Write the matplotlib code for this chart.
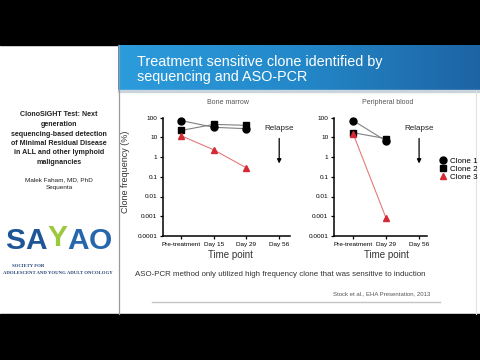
import numpy as np
import matplotlib
matplotlib.use("Agg")
import matplotlib.pyplot as plt
from matplotlib.colors import LinearSegmentedColormap
from matplotlib.patches import Rectangle

plt.rcParams['font.family'] = ['Liberation Sans', 'DejaVu Sans']

# ---------------- data ----------------
bm_categories = ["Pre-treatment", "Day 15", "Day 29", "Day 56"]
bm_clone1 = [70, 32, 27]
bm_clone2 = [22, 45, 40]
bm_clone3 = [12, 2.3, 0.28]

pb_categories = ["Pre-treatment", "Day 29", "Day 56"]
pb_clone1 = [70, 6.5]
pb_clone2 = [17, 8.5]
pb_clone3 = [15, 0.0008]

ytick_values = [0.0001, 0.001, 0.01, 0.1, 1, 10, 100]
ytick_labels = ["0.0001", "0.001", "0.01", "0.1", "1", "10", "100"]
clone_labels = ["Clone 1", "Clone 2", "Clone 3"]

title_lines = ["Treatment sensitive clone identified by", "sequencing and ASO-PCR"]
side_lines = ["ClonoSIGHT Test: Next", "generation", "sequencing-based detection",
              "of Minimal Residual Disease", "in ALL and other lymphoid", "malignancies"]
author_lines = ["Malek Faham, MD, PhD", "Sequenta"]
note_text = "ASO-PCR method only utilized high frequency clone that was sensitive to induction"
cite_text = "Stock et al., EHA Presentation, 2013"

RED = "#d42a35"
W, H = 480, 360

fig = plt.figure(figsize=(4.8, 3.6), dpi=100)
bg = fig.add_axes([0, 0, 1, 1])
bg.set_xlim(0, W)
bg.set_ylim(H, 0)
bg.axis('off')

# black bars
bg.add_patch(Rectangle((0, 0), W, 44.5, color='black', zorder=1))
bg.add_patch(Rectangle((0, 313.5), W, H - 313.5, color='black', zorder=1))

# banner gradient
cmap = LinearSegmentedColormap.from_list('ban', ['#2c9cdc', '#2388c9', '#1d64a3'])
grad = np.linspace(0, 1, 256).reshape(1, -1)
bg.imshow(grad, extent=(118, W, 90, 45), aspect='auto', cmap=cmap, zorder=2)
bg.add_patch(Rectangle((118, 90), W - 118, 1.5, color='#c9d4de', zorder=2))
bg.set_xlim(0, W)
bg.set_ylim(H, 0)
bg.text(137, 62, title_lines[0], color='white', fontsize=10.4, va='center', ha='left', zorder=3)
bg.text(137, 76.5, title_lines[1], color='white', fontsize=10.4, va='center', ha='left', zorder=3)

# separators
bg.plot([118.5, 118.5], [45, 313.5], color='#9a9a9a', lw=0.9, zorder=2)
bg.plot([476, 476], [91, 313.5], color='#e2e2e2', lw=0.8, zorder=2)
bg.plot([152, 440], [302, 302], color='#c4c4c4', lw=1.0, zorder=2)

# left panel text
side_y = [115, 125, 134.5, 143.5, 153, 162.5]
for s, y in zip(side_lines, side_y):
    bg.text(59, y, s, fontsize=5.1, fontweight='bold', color='#222222', ha='center', va='center')
for s, y in zip(author_lines, [180, 188]):
    bg.text(59, y, s, fontsize=4.6, color='#222222', ha='center', va='center')

# logo
logo = [("S", 15, 241, '#1e5596'), ("A", 36, 241, '#1e5596'), ("Y", 57, 238, '#9cc83c'),
        ("A", 78, 241, '#2566ad'), ("O", 100.5, 241, '#2566ad')]
for ch, x, y, c in logo:
    bg.text(x, y, ch, fontsize=21.5, fontweight='bold', color=c, ha='center', va='center')
bg.text(28, 266, "SOCIETY FOR", fontsize=3.4, color='#1e3f73', ha='center', va='center',
        family='Liberation Serif', fontweight='bold')
bg.text(58, 273, "ADOLESCENT AND YOUNG ADULT ONCOLOGY", fontsize=3.4, color='#1e3f73',
        ha='center', va='center', family='Liberation Serif', fontweight='bold')

# bottom text
bg.text(135, 275, note_text, fontsize=5.7, color='#333333', ha='left', va='center')
bg.text(430, 294, cite_text, fontsize=4.3, color='#555555', ha='right', va='center')


def make_ax(l, r, t, b):
    return fig.add_axes([l / W, 1 - b / H, (r - l) / W, (b - t) / H])


def style(ax, cats, xlim):
    ax.set_yscale('log')
    ax.set_ylim(1e-4, 100)
    ax.set_xlim(*xlim)
    ax.set_yticks(ytick_values)
    ax.set_yticklabels(ytick_labels)
    ax.minorticks_off()
    ax.set_xticks(range(len(cats)))
    ax.set_xticklabels(cats)
    ax.tick_params(labelsize=4.6, length=2.5, width=0.9, pad=1.5, direction='out')
    for s in ['top', 'right']:
        ax.spines[s].set_visible(False)
    for s in ['left', 'bottom']:
        ax.spines[s].set_linewidth(1.1)
    ax.patch.set_alpha(0)


def draw(ax, c1, c2, c3, relapse_x):
    x1 = range(len(c1))
    ax.plot(x1, c1, color='#808080', lw=0.8, zorder=2)
    ax.plot(x1, c2, color='#808080', lw=0.8, zorder=2)
    ax.plot(x1, c3, color='#e47a7a', lw=0.8, zorder=2)
    h1, = ax.plot(x1, c1, 'o', color='black', ms=5, ls='none', zorder=3, label=clone_labels[0])
    h2, = ax.plot(x1, c2, 's', color='black', ms=4.8, ls='none', zorder=3, label=clone_labels[1])
    h3, = ax.plot(x1, c3, '^', color=RED, ms=5, ls='none', zorder=4, label=clone_labels[2])
    ax.annotate('', xy=(relapse_x, 0.34), xytext=(relapse_x, 12),
                arrowprops=dict(arrowstyle='-|>', color='black', lw=0.9, mutation_scale=6))
    ax.text(relapse_x, 28, "Relapse", fontsize=5.8, ha='center', va='center', color='#222222')
    return [h1, h2, h3]


ax1 = make_ax(163, 290, 117.5, 236)
style(ax1, bm_categories, (-0.55, 3.33))
draw(ax1, bm_clone1, bm_clone2, bm_clone3, 3)

ax2 = make_ax(334, 427, 117.5, 236)
style(ax2, pb_categories, (-0.58, 2.24))
handles = draw(ax2, pb_clone1, pb_clone2, pb_clone3, 2)
ax2.legend(handles=handles, loc='upper left', bbox_to_anchor=(440 / W, 1 - 157 / H),
           bbox_transform=fig.transFigure, frameon=False, fontsize=5.8,
           handlelength=0.8, handletextpad=0.5, labelspacing=0.05, borderpad=0, borderaxespad=0)

bg.text(228, 103, "Bone marrow", fontsize=5.0, color='#555555', ha='center', va='center')
bg.text(388, 103, "Peripheral blood", fontsize=5.0, color='#555555', ha='center', va='center')
bg.text(230, 255, "Time point", fontsize=7, color='#333333', ha='center', va='center')
bg.text(386, 255, "Time point", fontsize=7, color='#333333', ha='center', va='center')
bg.text(126, 172, "Clone frequency (%)", fontsize=6.5, color='#333333', ha='center', va='center',
        rotation=90)

fig.savefig("out.png", dpi=100)
